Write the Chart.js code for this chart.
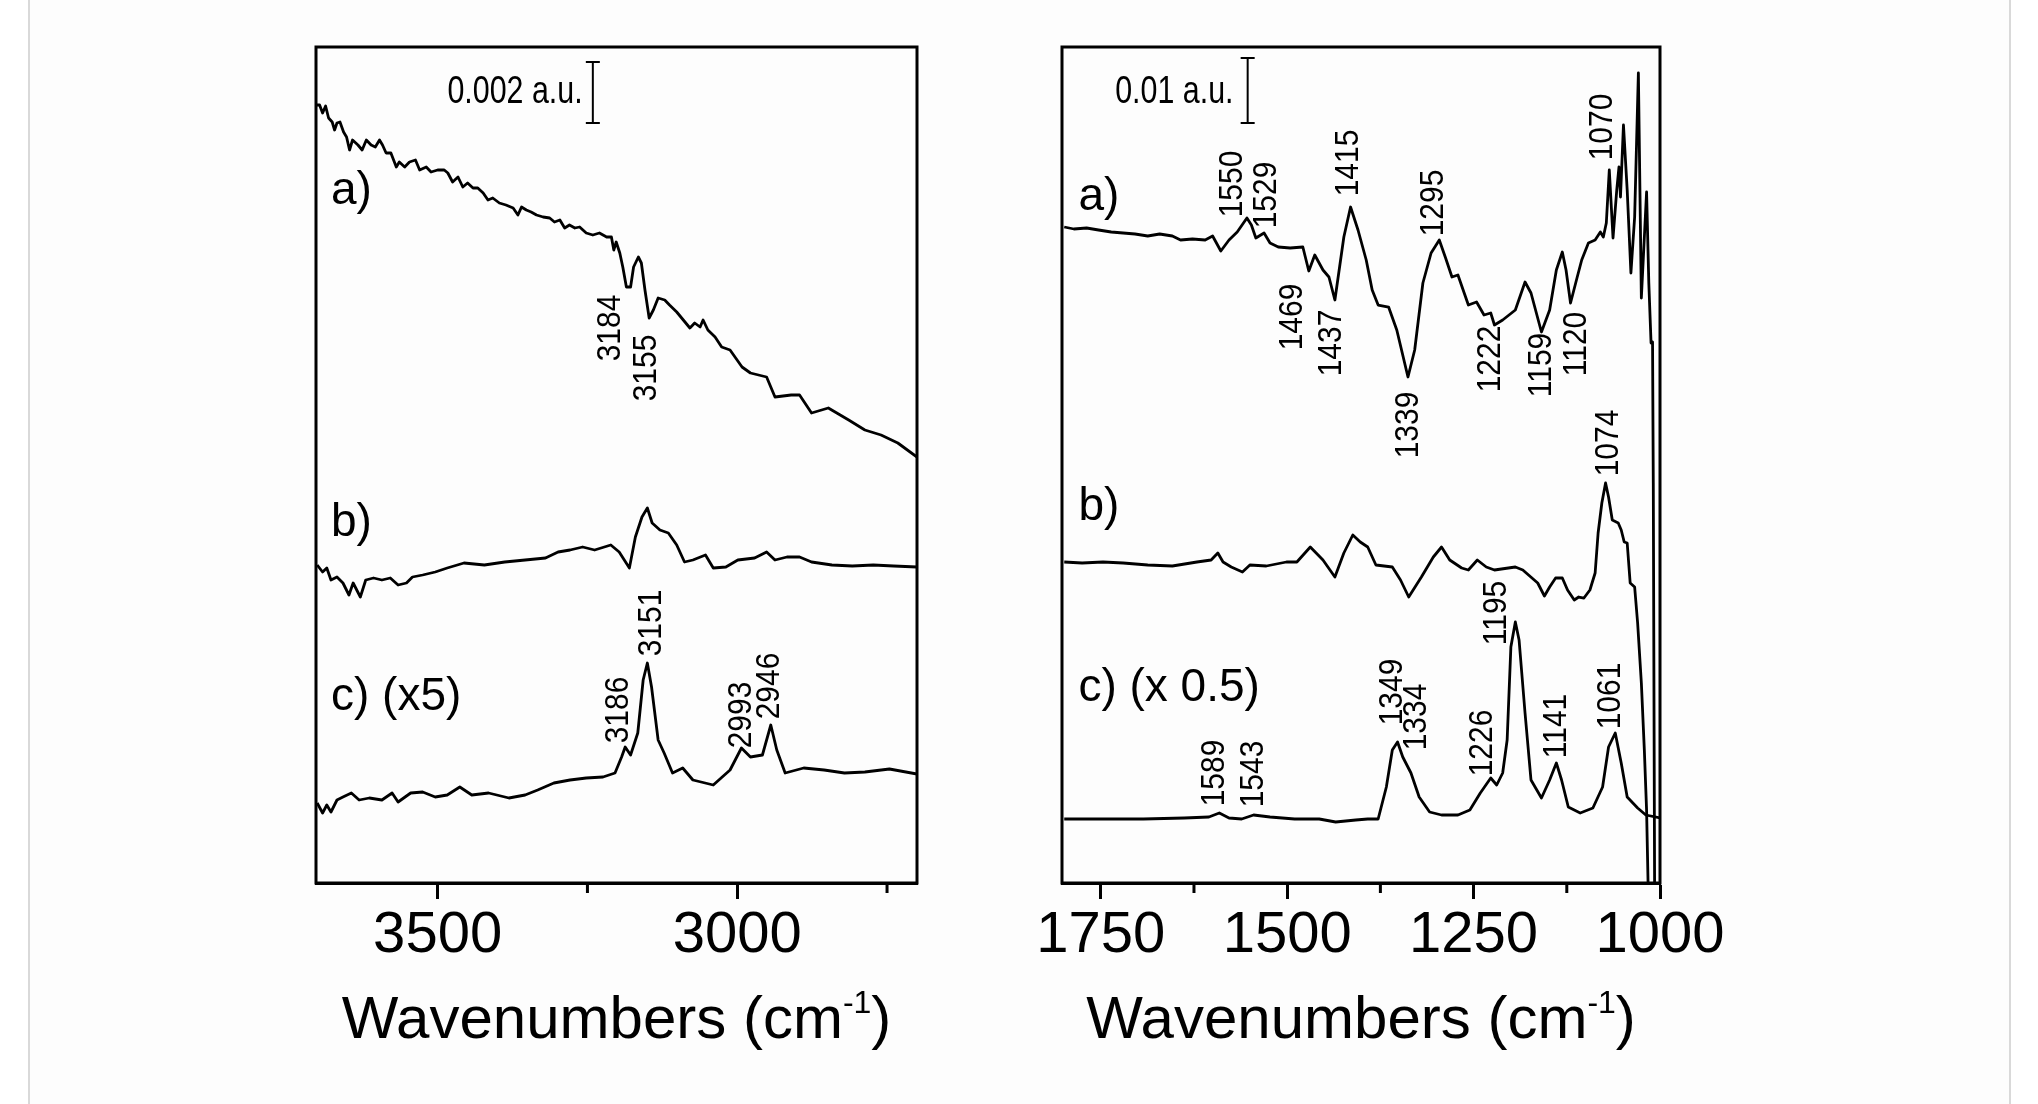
<!DOCTYPE html>
<html>
<head>
<meta charset="utf-8">
<script src="https://cdn.jsdelivr.net/npm/chart.js@4.4.1/dist/chart.umd.min.js"></script>
<style>
  body { margin: 0; background: #fff; width: 2038px; height: 1104px; position: relative; overflow: hidden; }
  .card { position: absolute; left: 28px; top: -4px; width: 1979px; height: 1112px;
          border-left: 2px solid #d9d9d9; border-right: 2px solid #d9d9d9; background: #fdfdfd; }
  .panel { position: absolute; top: 0; }
</style>
</head>
<body>
<div class="card"></div>
<canvas id="left" class="panel" width="800" height="1104" style="left:200px"></canvas>
<canvas id="right" class="panel" width="800" height="1104" style="left:980px"></canvas>
<script>
// spectra: [wavenumber cm-1, absorbance (arb. offset, panel units)]
const leftA = [[3702,778],[3697,778],[3692,770],[3687,777],[3682,765],[3676,761],[3672,753],[3668,760],[3663,761],[3657,751],[3652,746],[3647,733],[3642,743],[3633,738],[3626,733],[3619,743],[3611,738],[3604,736],[3597,743],[3592,738],[3586,730],[3578,730],[3569,716],[3564,721],[3555,716],[3547,721],[3537,723],[3530,713],[3519,716],[3511,711],[3500,713],[3489,713],[3483,710],[3475,701],[3466,706],[3458,696],[3450,700],[3441,695],[3433,695],[3424,690],[3416,683],[3408,685],[3397,680],[3386,678],[3374,675],[3366,668],[3360,676],[3352,673],[3344,671],[3335,668],[3324,666],[3313,665],[3305,661],[3296,663],[3288,655],[3280,658],[3271,655],[3263,656],[3252,650],[3241,648],[3230,650],[3218,646],[3210,646],[3206,633],[3202,641],[3196,630],[3191,616],[3185,596],[3178,596],[3173,616],[3165,626],[3160,620],[3154,593],[3147,565],[3140,573],[3132,585],[3121,583],[3113,578],[3101,571],[3090,563],[3079,555],[3071,560],[3062,556],[3057,563],[3049,553],[3037,546],[3026,536],[3012,533],[2992,516],[2978,510],[2951,506],[2937,486],[2910,488],[2896,488],[2876,470],[2848,475],[2814,463],[2787,453],[2760,448],[2732,440],[2700,426]];
const leftB = [[3701,318],[3692,311],[3685,315],[3678,303],[3668,306],[3658,300],[3648,288],[3641,300],[3629,286],[3620,303],[3607,305],[3593,303],[3579,305],[3566,298],[3552,300],[3542,306],[3525,308],[3504,311],[3484,315],[3456,320],[3422,318],[3388,321],[3354,323],[3320,325],[3299,331],[3279,333],[3258,336],[3238,333],[3211,338],[3197,331],[3180,315],[3170,346],[3159,366],[3150,375],[3142,360],[3129,353],[3115,350],[3101,338],[3088,321],[3074,323],[3053,328],[3040,315],[3019,316],[2999,323],[2971,325],[2951,331],[2937,323],[2917,326],[2896,326],[2876,321],[2842,318],[2808,317],[2773,318],[2739,317],[2700,316]];
const leftC = [[3701,80],[3692,70],[3685,78],[3678,71],[3668,83],[3658,86],[3644,90],[3631,83],[3614,85],[3593,83],[3576,90],[3566,81],[3545,90],[3525,91],[3504,86],[3484,88],[3463,96],[3443,88],[3415,90],[3381,85],[3354,88],[3333,93],[3306,100],[3279,103],[3252,105],[3224,106],[3204,110],[3193,126],[3187,136],[3178,128],[3166,150],[3157,203],[3150,220],[3143,196],[3132,143],[3122,130],[3108,110],[3091,115],[3074,103],[3040,98],[3012,113],[2993,135],[2978,126],[2958,128],[2944,158],[2934,133],[2920,110],[2889,115],[2855,113],[2821,110],[2787,111],[2746,114],[2700,109]];

const rightA = [[1799,656],[1786,654],[1769,655],[1753,653],[1736,651],[1720,650],[1704,649],[1687,647],[1671,649],[1654,647],[1643,643],[1627,644],[1610,643],[1600,647],[1589,632],[1578,643],[1567,651],[1554,665],[1548,658],[1542,645],[1531,650],[1523,640],[1512,636],[1496,635],[1479,636],[1471,612],[1463,628],[1452,613],[1444,606],[1436,583],[1424,646],[1415,676],[1405,653],[1394,623],[1386,593],[1378,578],[1364,576],[1353,553],[1338,506],[1329,533],[1318,600],[1307,630],[1296,643],[1288,626],[1279,606],[1271,608],[1257,578],[1246,581],[1236,568],[1227,570],[1222,558],[1211,563],[1194,573],[1181,601],[1173,590],[1159,551],[1148,573],[1139,613],[1131,631],[1126,613],[1120,580],[1111,606],[1105,623],[1096,640],[1087,643],[1080,651],[1076,646],[1072,660],[1068,713],[1063,645],[1058,693],[1055,716],[1053,686],[1049,758],[1044,693],[1039,610],[1034,666],[1029,810],[1025,585],[1018,691],[1015,600],[1012,540],[1010,541],[1009,400],[1007,-60]];
const rightB = [[1799,321],[1775,320],[1747,321],[1720,320],[1687,318],[1654,317],[1621,321],[1602,323],[1593,330],[1586,321],[1575,316],[1560,311],[1550,318],[1528,317],[1501,321],[1487,321],[1469,336],[1452,323],[1436,306],[1424,330],[1412,348],[1402,341],[1392,336],[1381,318],[1359,316],[1348,303],[1337,286],[1320,306],[1304,326],[1293,336],[1282,323],[1266,315],[1257,313],[1245,323],[1233,316],[1222,313],[1194,316],[1184,313],[1164,300],[1155,287],[1148,296],[1140,305],[1131,305],[1124,293],[1115,283],[1109,286],[1102,285],[1094,293],[1087,310],[1083,350],[1078,380],[1073,400],[1069,386],[1064,363],[1056,360],[1052,353],[1048,341],[1044,340],[1040,300],[1034,296],[1030,260],[1025,200],[1021,133],[1018,73],[1016,0],[1014,-60]];
const rightC = [[1799,64],[1747,64],[1693,64],[1638,65],[1605,66],[1591,70],[1578,65],[1561,64],[1545,68],[1523,66],[1490,64],[1457,64],[1435,61],[1408,63],[1392,64],[1378,64],[1367,96],[1359,133],[1352,141],[1345,126],[1334,110],[1323,86],[1309,71],[1293,68],[1271,68],[1255,73],[1241,90],[1227,105],[1219,98],[1211,110],[1205,143],[1200,236],[1194,261],[1189,243],[1181,170],[1173,103],[1159,85],[1148,103],[1139,120],[1132,103],[1123,76],[1107,70],[1090,75],[1077,96],[1069,136],[1060,150],[1052,120],[1044,86],[1030,75],[1019,68],[1000,65]];

// axes
const leftRange = [2700, 3703];
const leftMajor = [3500, 3000];
const leftMinor = [3250, 2750];
const rightRange = [1000, 1802];
const rightMajor = [1750, 1500, 1250, 1000];
const rightMinor = [1625, 1375, 1125];

// scale bars [wavenumber, bottom, top]
const leftBar = [3241, 760, 821];
const rightBar = [1553, 760, 825];

// text [label, wavenumber, height]
const leftTags = [['a)', 3678, 692], ['b)', 3678, 360], ['c) (x5)', 3678, 186]];
const leftScaleText = ['0.002 a.u.', 3258, 790];
const leftPeaks = [['3184', 3211, 555], ['3155', 3152, 515], ['3151', 3143, 260], ['3186', 3198, 173], ['2993', 2992, 168], ['2946', 2946, 197]];

const rightTags = [['a)', 1780, 686], ['b)', 1780, 376], ['c) (x 0.5)', 1780, 195]];
const rightScaleText = ['0.01 a.u.', 1572, 790];
const rightPeaks = [['1550', 1573, 699], ['1529', 1528, 688], ['1415', 1418, 720], ['1295', 1304, 680], ['1070', 1077, 756],
  ['1469', 1493, 566], ['1437', 1441, 540], ['1339', 1337, 458], ['1222', 1227, 524], ['1159', 1159, 518], ['1120', 1112, 539],
  ['1074', 1069, 440], ['1195', 1219, 270], ['1349', 1358, 191], ['1334', 1326, 166], ['1226', 1238, 140], ['1141', 1139, 157],
  ['1061', 1066, 187], ['1589', 1597, 110], ['1543', 1545, 109]];

const FONT = '"Liberation Sans", Arial, sans-serif';

const toXY = arr => arr.map(p => ({ x: p[0], y: p[1] }));

function panelDecor(cfg) {
  return {
    id: 'decor',
    afterDatasetsDraw(chart) {
      const { ctx, chartArea: a, scales: { x, y } } = chart;
      ctx.save();
      ctx.strokeStyle = '#000';
      ctx.lineWidth = 3;
      ctx.strokeRect(a.left, a.top, a.right - a.left, a.bottom - a.top);
      // minor ticks
      cfg.minor.forEach(v => {
        const px = x.getPixelForValue(v);
        ctx.beginPath();
        ctx.moveTo(px, a.bottom);
        ctx.lineTo(px, a.bottom + 10);
        ctx.stroke();
      });
      ctx.fillStyle = '#000';
      // series tags
      ctx.font = '46px ' + FONT;
      ctx.textAlign = 'left';
      ctx.textBaseline = 'middle';
      cfg.tags.forEach(t => ctx.fillText(t[0], x.getPixelForValue(t[1]), y.getPixelForValue(t[2])));
      // scale bar text
      ctx.save();
      ctx.translate(x.getPixelForValue(cfg.scaleText[1]), y.getPixelForValue(cfg.scaleText[2]));
      ctx.scale(0.8, 1);
      ctx.font = '38px ' + FONT;
      ctx.textAlign = 'right';
      ctx.fillText(cfg.scaleText[0], 0, 0);
      ctx.restore();
      // peak labels, read bottom to top
      ctx.font = '34px ' + FONT;
      ctx.textAlign = 'center';
      cfg.peaks.forEach(p => {
        ctx.save();
        ctx.translate(x.getPixelForValue(p[1]), y.getPixelForValue(p[2]));
        ctx.rotate(-Math.PI / 2);
        ctx.scale(0.88, 1);
        ctx.fillText(p[0], 0, 0);
        ctx.restore();
      });
      // axis title with superscript
      const main = 'Wavenumbers (cm', sup = '-1', close = ')';
      ctx.textBaseline = 'alphabetic';
      ctx.textAlign = 'left';
      ctx.font = '60px ' + FONT;
      const w1 = ctx.measureText(main).width, w3 = ctx.measureText(close).width;
      ctx.font = '32px ' + FONT;
      const w2 = ctx.measureText(sup).width;
      const tx = (a.left + a.right) / 2 - (w1 + w2 + w3) / 2;
      const base = 1038;
      ctx.font = '60px ' + FONT;
      ctx.fillText(main, tx, base);
      ctx.font = '32px ' + FONT;
      ctx.fillText(sup, tx + w1, base - 25);
      ctx.font = '60px ' + FONT;
      ctx.fillText(close, tx + w1 + w2, base);
      ctx.restore();
    }
  };
}

function makePanel(id, cfg) {
  const line = d => ({ data: toXY(d), borderColor: '#000', borderWidth: 2.8, pointRadius: 0, tension: 0, fill: false, borderJoinStyle: 'round' });
  const bar = {
    data: [{ x: cfg.bar[0], y: cfg.bar[1] }, { x: cfg.bar[0], y: cfg.bar[2] }],
    borderColor: '#000', borderWidth: 2, pointStyle: 'line', pointRadius: 7,
    pointBorderWidth: 2, pointBorderColor: '#000', tension: 0
  };
  return new Chart(document.getElementById(id), {
    type: 'line',
    data: { datasets: cfg.series.map(line).concat([bar]) },
    options: {
      responsive: false,
      animation: false,
      layout: { padding: cfg.padding },
      plugins: { legend: { display: false }, tooltip: { enabled: false } },
      scales: {
        x: {
          type: 'linear',
          reverse: true,
          min: cfg.range[0],
          max: cfg.range[1],
          afterBuildTicks: s => { s.ticks = cfg.major.map(v => ({ value: v })); },
          afterFit: s => { s.height = 150; },
          ticks: {
            autoSkip: false, maxRotation: 0, padding: 2, color: '#000',
            font: { family: FONT, size: 58 },
            callback: v => String(v)
          },
          grid: { drawOnChartArea: false, drawTicks: true, tickLength: 16, tickWidth: 3, tickColor: '#000' },
          border: { display: true, color: '#000', width: 3 }
        },
        y: { display: false, min: 0, max: 836 }
      }
    },
    plugins: [panelDecor(cfg)]
  });
}

makePanel('left', {
  series: [leftA, leftB, leftC], range: leftRange, major: leftMajor, minor: leftMinor,
  bar: leftBar, tags: leftTags, scaleText: leftScaleText, peaks: leftPeaks,
  padding: { left: 116, right: 83, top: 47, bottom: 71 }
});
makePanel('right', {
  series: [rightA, rightB, rightC], range: rightRange, major: rightMajor, minor: rightMinor,
  bar: rightBar, tags: rightTags, scaleText: rightScaleText, peaks: rightPeaks,
  padding: { left: 82, right: 120, top: 47, bottom: 71 }
});
</script>
</body>
</html>
